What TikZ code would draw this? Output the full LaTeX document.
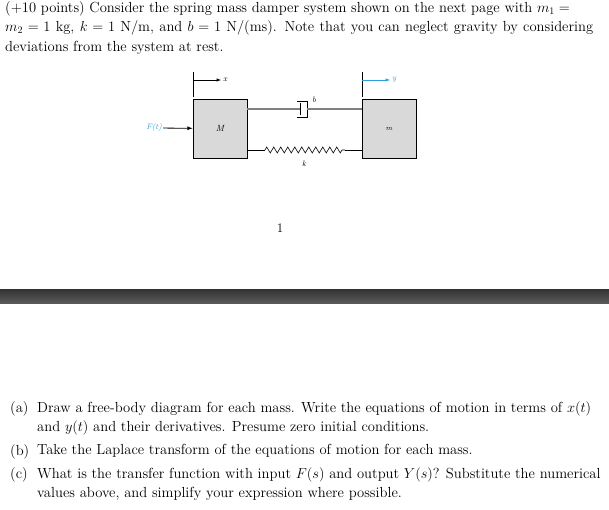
\documentclass[tikz,border=0pt]{standalone}
\usetikzlibrary{decorations.pathmorphing}
\definecolor{cy}{RGB}{40,160,220}
\begin{document}
\begin{tikzpicture}[x=1pt,y=-1pt,
  txt/.style={anchor=north west,inner sep=0pt,align=left,font=\fontsize{14.6}{19.5}\selectfont},
  mass/.style={draw,fill=gray!30,minimum width=54pt,minimum height=59pt,inner sep=0pt,line width=0.8pt},
  small/.style={font=\fontsize{8}{9}\selectfont\itshape,inner sep=1pt},
  rod/.style={draw=gray,line width=1.2pt}]
\useasboundingbox (0,0) rectangle (609,510);
\node[txt,text width=588pt,align=justify] (intro) at (5,1) {(+10 points) Consider the spring mass damper system shown on the next page with $m_1=$\hfill\break $m_2=1$ kg, $k=1$ N/m, and $b=1$ N/(ms). Note that you can neglect gravity by considering\break deviations from the system at rest.};
\node[mass] (M) at (220,128.5) {\small\itshape M};
\node[mass] (m) at (389,128.5) {\scriptsize\itshape m};
% damper
\coordinate (d1) at (247,109); \coordinate (d2) at (362,109);
\draw[rod] (d1) -- (300,109);
\draw[line width=0.8pt] (300,103) -- (300,115);
\draw[line width=0.8pt] (297,101) -- (307,101) -- (307,117) -- (297,117);
\draw[rod] (307,109) -- (d2);
\node[small] (b) at (314,100) {b};
% spring
\coordinate (s1) at (247,150); \coordinate (s2) at (362,150);
\draw[line width=0.6pt] (s1) -- (265,150);
\draw[line width=0.6pt,decorate,decoration={zigzag,segment length=7pt,amplitude=3pt}] (265,150) -- (345,150);
\draw[line width=0.6pt] (345,150) -- (s2);
\node[small] (k) at (304,164) {k};
% force
\node[small,text=cy,anchor=east] (F) at (163,128) {F(t)};
\draw[-latex,line width=0.8pt] (F) -- (M);
% x, y
\draw[line width=0.5pt] (193,72) -- (193,97);
\draw[-latex,line width=0.5pt] (193,80) -- (221,80);
\node[small,anchor=west] (xl) at (222,80) {x};
\draw[line width=0.5pt] (362,72) -- (362,97);
\draw[-latex,line width=0.5pt,cy] (362,80) -- (390,80);
\node[small,anchor=west,text=cy] (yl) at (391,80) {y};
\node[font=\fontsize{13}{14}\selectfont] (pg) at (280,228) {1};
% bar
\shade[top color=black!80,bottom color=black!65] (0,289) rectangle (609,303);
\node[txt] (a) at (10,401) {(a)};
\node[txt] (at) at (37,401) {Draw a free-body diagram for each mass. Write the equations of motion in terms of $x(t)$\\ and $y(t)$ and their derivatives. Presume zero initial conditions.};
\node[txt] (b2) at (10,444) {(b)};
\node[txt] (bt) at (37,444) {Take the Laplace transform of the equations of motion for each mass.};
\node[txt] (c) at (10,467) {(c)};
\node[txt] (ct) at (37,467) {What is the transfer function with input $F(s)$ and output $Y(s)$? Substitute the numerical\\ values above, and simplify your expression where possible.};
\end{tikzpicture}
\end{document}
